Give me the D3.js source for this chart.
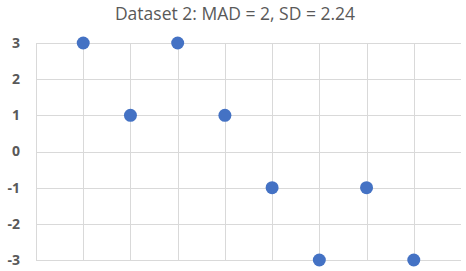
<!DOCTYPE html>
<html>
<head>
<meta charset="utf-8">
<script src="https://cdn.jsdelivr.net/npm/d3@7"></script>
<style>
  body { margin: 0; background: #fff; }
</style>
</head>
<body>
<div id="chart"></div>
<script>
const title = "Dataset 2: MAD = 2, SD = 2.24";
const xValues = [1, 2, 3, 4, 5, 6, 7, 8];
const yValues = [3, 1, 3, 1, -1, -3, -1, -3];
const yTicks = [-3, -2, -1, 0, 1, 2, 3];
const xGrid = [0, 1, 2, 3, 4, 5, 6, 7, 8];

const W = 466, H = 271;
const margin = { top: 43, right: 5, bottom: 11, left: 36 };
const width = W - margin.left - margin.right;
const height = H - margin.top - margin.bottom;

const svg = d3.select("#chart").append("svg")
    .attr("width", W)
    .attr("height", H);

const g = svg.append("g")
    .attr("transform", `translate(${margin.left},${margin.top})`);

const x = d3.scaleLinear().domain([0, 9]).range([0, width]);
const y = d3.scaleLinear().domain([-3, 3]).range([height, 0]);

// gridlines
g.selectAll(".hgrid")
    .data(yTicks)
    .enter().append("line")
    .attr("x1", 0)
    .attr("x2", width)
    .attr("y1", d => Math.round(y(d)) + 0.5)
    .attr("y2", d => Math.round(y(d)) + 0.5)
    .attr("stroke", "#d9d9d9")
    .attr("stroke-width", 1);

g.selectAll(".vgrid")
    .data(xGrid)
    .enter().append("line")
    .attr("x1", d => Math.round(x(d)) + 0.5)
    .attr("x2", d => Math.round(x(d)) + 0.5)
    .attr("y1", 0)
    .attr("y2", height)
    .attr("stroke", "#d9d9d9")
    .attr("stroke-width", 1);

// y labels
g.selectAll(".ylab")
    .data(yTicks)
    .enter().append("text")
    .attr("x", -16)
    .attr("y", d => y(d))
    .attr("dy", "0.35em")
    .attr("text-anchor", "end")
    .style("font-family", "'Open Sans', 'Liberation Sans', sans-serif")
    .style("font-size", "14px")
    .style("font-weight", "bold")
    .attr("fill", "#595959")
    .text(d => d);

// points
g.selectAll(".dot")
    .data(xValues.map((v, i) => ({ x: v, y: yValues[i] })))
    .enter().append("circle")
    .attr("cx", d => x(d.x))
    .attr("cy", d => y(d.y))
    .attr("r", 6.5)
    .attr("fill", "#4472c4");

// title
svg.append("text")
    .attr("x", 235)
    .attr("y", 19.5)
    .attr("text-anchor", "middle")
    .style("font-family", "'Open Sans', 'Liberation Sans', sans-serif")
    .style("font-size", "17.5px")
    .attr("fill", "#595959")
    .text(title);
</script>
</body>
</html>
